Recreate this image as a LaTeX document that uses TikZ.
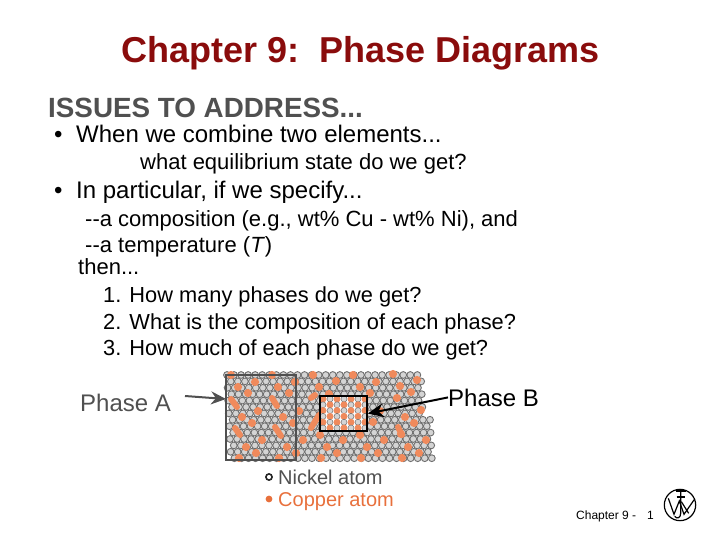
\documentclass[tikz,border=0pt]{standalone}
\usepackage{fontspec}
\setmainfont{Liberation Sans}
\usetikzlibrary
  {
    arrows.meta,
    calc,
  }
\definecolor{titlered}{HTML}{8A0C0C}
\definecolor{issuegray}{HTML}{505050}
\definecolor{copperorange}{HTML}{F08A5C}
\definecolor{copperlabel}{HTML}{E8703C}
\definecolor{nickelfill}{HTML}{D4D4D4}
\definecolor{nickeledge}{HTML}{6E6E6E}

\begin{document}
\begin{tikzpicture}
    [
      x=1pt,
      y=-1pt,
      line/.style=
        {
          anchor=base west,
          inner sep=0pt,
          text=black,
          font=\fontsize{24}{26}\selectfont,
        },
      small line/.style=
        {
          line,
          font=\fontsize{22}{24}\selectfont,
        },
      number line/.style=
        {
          line,
          font=\fontsize{21.8}{24}\selectfont,
        },
      legend line/.style=
        {
          line,
          font=\fontsize{20}{24}\selectfont,
        },
      nickel/.style=
        {
          draw=nickeledge,
          fill=nickelfill,
          line width=0.9pt,
        },
      copper/.style=
        {
          fill=copperorange,
        },
    ]
    \useasboundingbox (0,0) rectangle (720,540);

    % heading
    \node[line,text=titlered,font=\bfseries\fontsize{36}{38}\selectfont] (title) at (121,63) {Chapter 9:\ \ Phase Diagrams};
    \node[line,text=issuegray,font=\bfseries\fontsize{27.8}{30}\selectfont] (issues) at (48,118) {ISSUES TO ADDRESS...};

    % questions
    \node[line] (bullet 1) at (54,143) {•};
    \node[line] (combine)  at (76,143) {When we combine two elements...};
    \node[small line] (state) at (140,170) {what equilibrium state do we get?};
    \node[line] (bullet 2) at (54,199) {•};
    \node[line] (specify)  at (76,199) {In particular, if we specify...};
    \node[small line] (composition) at (85,226) {{-}{-}a composition (e.g., wt\% Cu - wt\% Ni), and};
    \node[small line] (temperature) at (85,252) {{-}{-}a temperature (\textit{T})};
    \node[small line] (then) at (78,274) {then...};
    \node[number line] (phases)  at (103,302) {1. How many phases do we get?};
    \node[number line] (each)    at (103,329) {2. What is the composition of each phase?};
    \node[number line] (much)    at (103,355) {3. How much of each phase do we get?};

    % nickel atoms, rows slowly drifting to the right
    \foreach \r in {0,...,13}
      {
        \pgfmathtruncatemacro{\n}{27+int(\r/7)}
        \foreach \i in {0,...,\n}
          {
            \pgfmathsetmacro{\ax}{227+7.05*\i+3.5*mod(\r,2)+0.3*\r}
            \pgfmathsetmacro{\ay}{375+6.4*\r}
            \draw[nickel] (\ax,\ay) circle (3.4);
          }
      }

    % copper atoms
    \foreach \ax/\ay in
      {
        231/375, 272/375, 313/375, 353/375, 393/374,
        255/382, 295/382, 336/381, 376/382, 417/380,
        238/387, 278/387, 319/387, 360/387, 400/386,
        248/393, 289/393, 329/394, 370/393, 411/392,
        397/398, 258/411, 299/411, 380/411, 421/410,
        242/417, 283/417, 405/417, 252/423, 293/423,
        373/422, 414/423, 320/435, 360/435, 401/434,
        262/440, 303/440, 343/440, 384/440, 426/440,
        246/447, 287/447, 327/447, 367/447, 408/447,
        256/453, 296/453, 337/453, 378/453, 419/453,
        239/458, 279/458, 321/458, 361/458, 402/458
      }
      {
        \fill[copper] (\ax,\ay) circle (4.1);
      }

    % twin bands of copper
    \foreach \ax/\ay/\bx/\by in
      {
        231/399/237/407, 272/398/277/406, 311/398/315/395,
        311/428/319/415, 235/428/240/435, 275/427/281/436,
        398/427/402/435
      }
      {
        \draw[copperorange,line width=6pt,line cap=round] (\ax,\ay) -- (\bx,\by);
      }

    % grain outline
    \node[draw=issuegray,line width=1.5pt,minimum width=70pt,minimum height=85pt,inner sep=0pt] (grain) at (261,417.5) {};
    \coordinate (grain edge) at (226,399);

    % magnified region
    \node[fill=white,minimum width=47pt,minimum height=35pt,inner sep=0pt] (region back) at (343.5,413.5) {};
    \foreach \r in {0,...,5}
      {
        \foreach \i in {0,...,6}
          {
            \pgfmathsetmacro{\ax}{323+7*\i}
            \pgfmathsetmacro{\ay}{399+5.8*\r}
            \pgfmathtruncatemacro{\odd}{mod(\i+\r,2)}
            \ifnum\odd=0
              \fill[copper] (\ax,\ay) circle (3.5);
            \else
              \draw[nickel,line width=0.5pt] (\ax,\ay) circle (3);
            \fi
          }
      }
    \node[draw=black,line width=1.6pt,minimum width=47pt,minimum height=35pt,inner sep=0pt] (region) at (343.5,413.5) {};

    % phase labels
    \node[line,text=issuegray] (phase a) at (80,411) {Phase A};
    \node[line] (phase b) at (448,406) {Phase B};
    \coordinate (phase a tail) at (185,396);
    \draw[-{Stealth[length=15pt,width=13pt]},issuegray,line width=2pt] (phase a tail) -- (grain edge);
    \draw[-{Stealth[length=16pt,width=14pt]},black,line width=2pt] (phase b.west) -- (region.east);

    % legend
    \draw[fill=white,draw=black!85,line width=1.6pt] (269,477) circle (3.1);
    \node[legend line,text=issuegray] (nickel atom) at (278,484) {Nickel atom};
    \fill[copperlabel] (269,499) circle (3.4);
    \node[legend line,text=copperlabel] (copper atom) at (278,506) {Copper atom};

    % footer
    \node[anchor=base west,inner sep=0pt,font=\fontsize{12}{14}\selectfont] (footer) at (576,519) {Chapter 9 -};
    \node[anchor=base west,inner sep=0pt,font=\fontsize{12}{14}\selectfont] (page) at (647,519) {1};

    % publisher mark
    \begin{scope}[shift={(660,485)},scale=1/3,line width=1.2pt]
      \draw (60,60) circle (47);
      \draw (25,40) -- (42,88) -- (58,48) -- (72,88) -- (104,42);
      \draw (62,18) -- (62,85) .. controls (62,100) and (50,102) .. (44,94);
      \draw (48,18) -- (78,18);
      \draw (50,36) -- (76,36);
      \draw (64,50) -- (86,85);
    \end{scope}
\end{tikzpicture}
\end{document}
